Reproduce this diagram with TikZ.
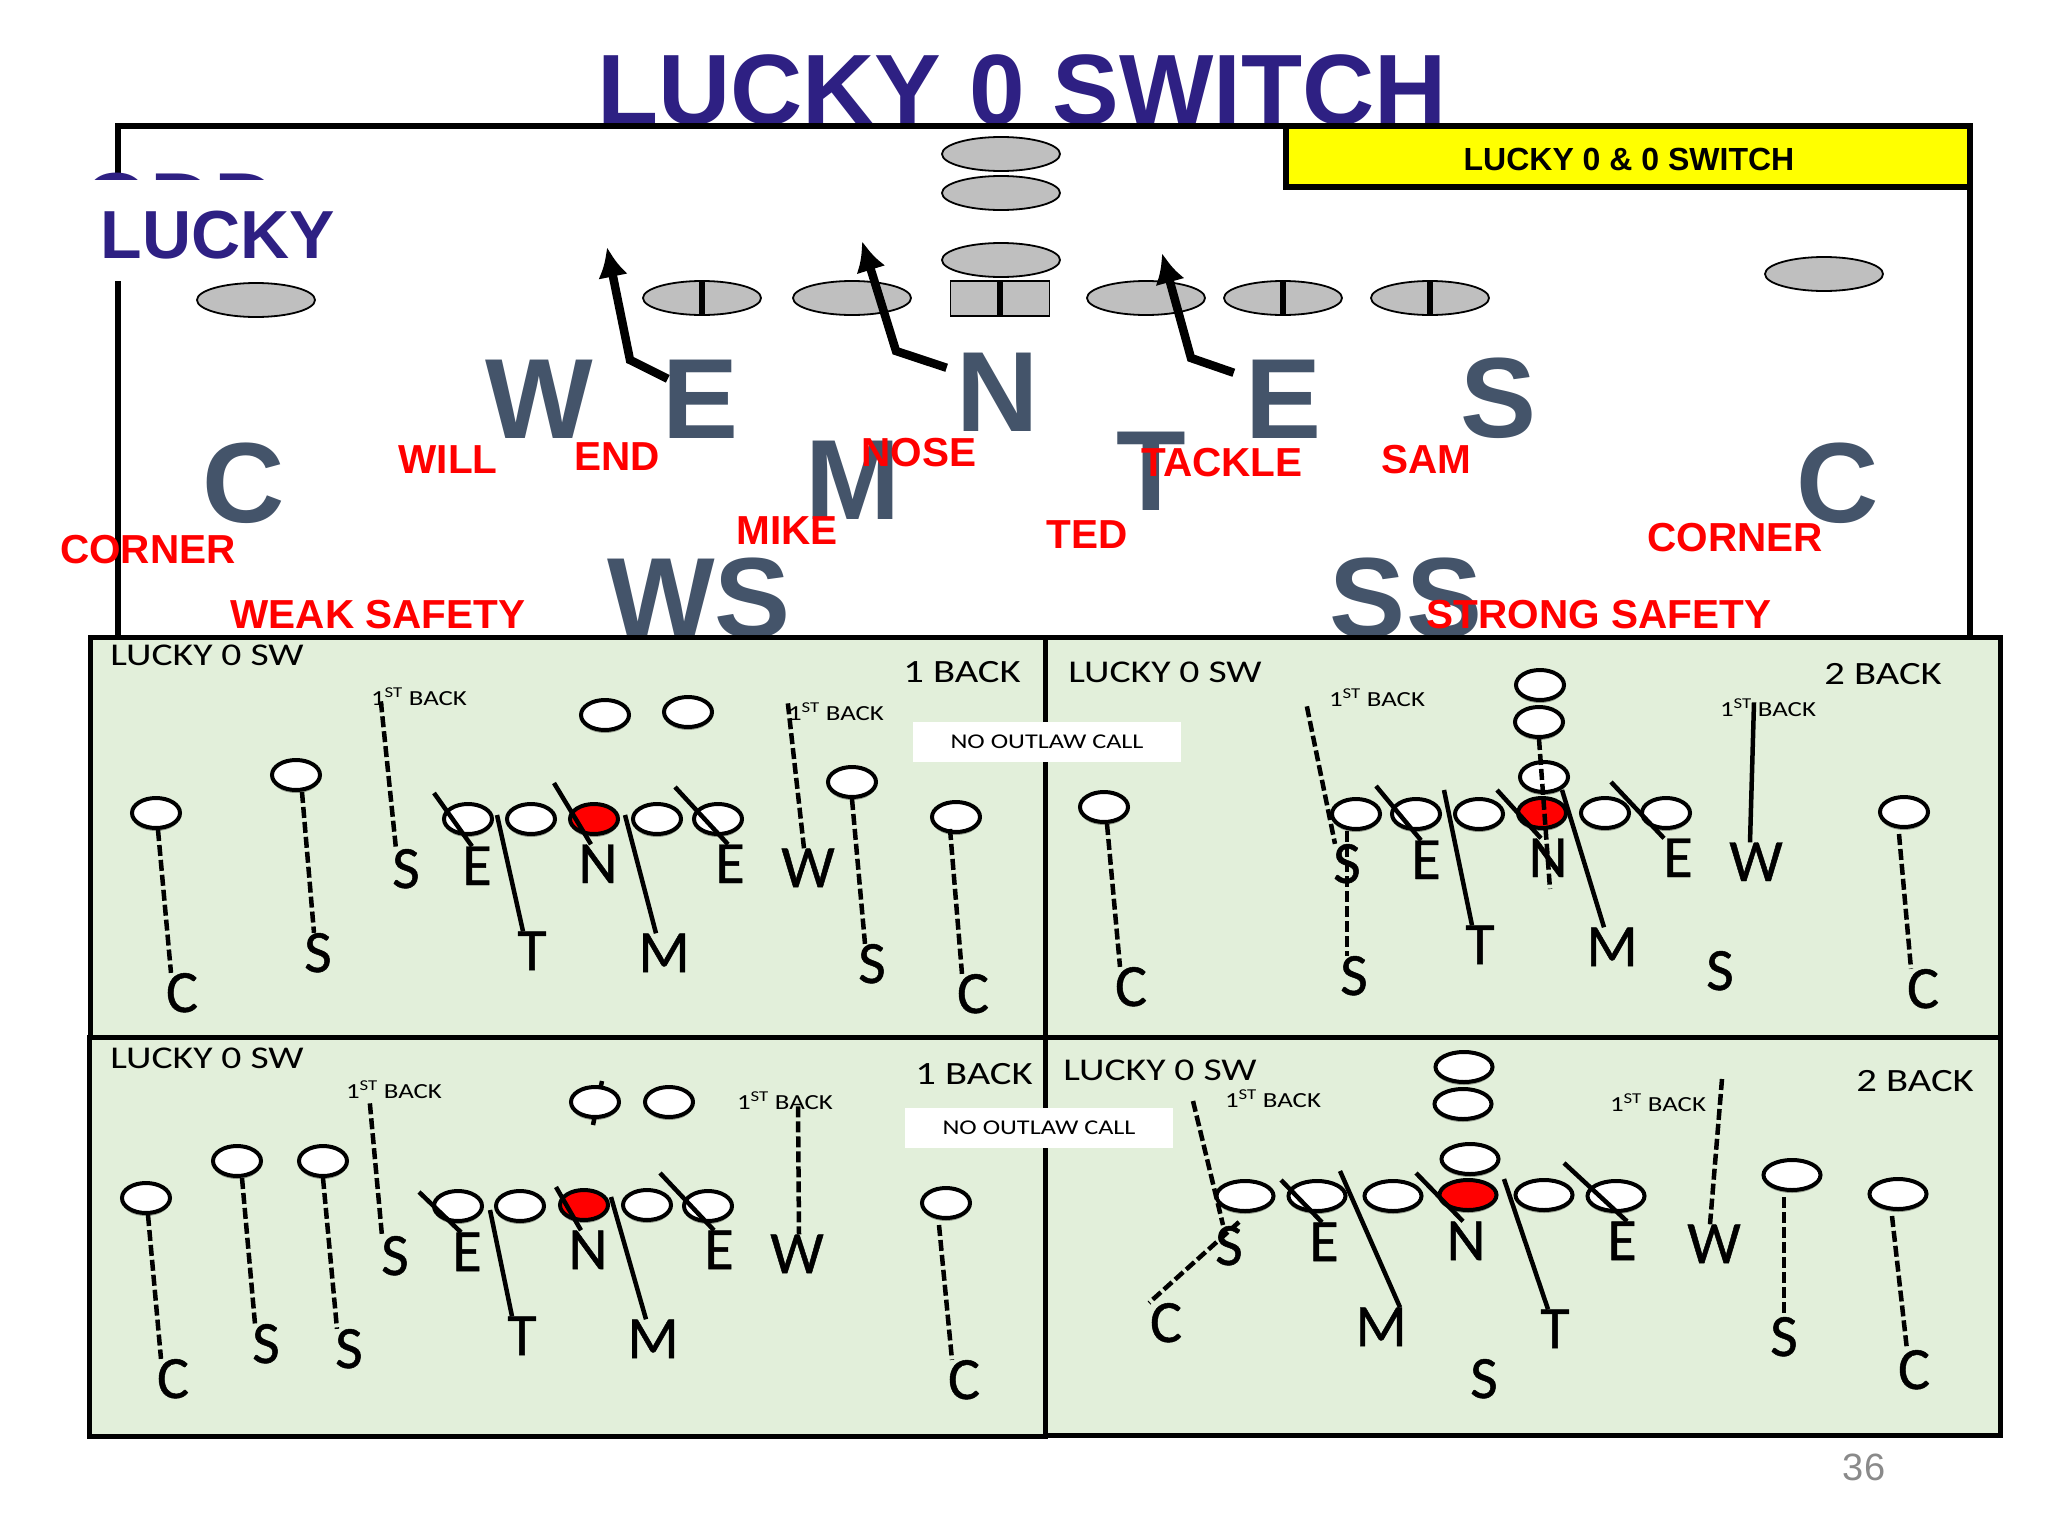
\documentclass[tikz,border=0pt]{standalone}
\usepackage{fontspec}
\setmainfont{Liberation Sans}
\newfontfamily\markfont[FakeBold=0.8]{Carlito}
\newfontfamily\widefont[FakeStretch=1.25]{Carlito}
\usetikzlibrary{positioning,arrows.meta,shapes.geometric,shadows}
\definecolor{titleblue}{HTML}{2E2083}
\definecolor{slate}{HTML}{44546A}
\definecolor{panelgreen}{HTML}{E2EFDA}
\definecolor{fieldgray}{HTML}{BFBFBF}
\definecolor{tagyellow}{RGB}{255,255,0}
\definecolor{callred}{RGB}{255,0,0}
\tikzset{
	headline/.style={anchor=base,inner sep=0pt,font=\bfseries\fontsize{#1}{#1}\selectfont},
	bigmark/.style={anchor=base,inner sep=0pt,text=slate,font=\bfseries\fontsize{114}{114}\selectfont},
	redname/.style={anchor=base,inner sep=0pt,text=callred,font=\bfseries\fontsize{40.5}{40.5}\selectfont},
	gray oval/.style={ellipse,draw,line width=1.8pt,fill=fieldgray,minimum width=118pt,minimum height=34pt,inner sep=0pt},
	bar/.style={line width=6pt},
	blitz/.style={line width=8.5pt,-{Latex[length=30pt,width=30pt]}},
	back/.style={ellipse,draw,line width=4pt,fill=white,minimum width=48pt,minimum height=30pt,inner sep=0pt,
		drop shadow={shadow xshift=0pt,shadow yshift=-3pt,opacity=.35,fill=black}},
	letter/.style={anchor=base,inner sep=0pt,font=\markfont\fontsize{60}{60}\selectfont},
	paneltitle/.style={anchor=base,inner sep=0pt,font=\widefont\fontsize{31.7}{31.7}\selectfont},
	backcount/.style={anchor=base,inner sep=0pt,font=\widefont\fontsize{32.5}{32.5}\selectfont},
	firstback/.style={anchor=base,inner sep=0pt,font=\widefont\fontsize{21.5}{21.5}\selectfont},
	outlaw/.style={fill=white,minimum width=268pt,minimum height=40pt,inner sep=0pt,font=\widefont\fontsize{21}{21}\selectfont},
	rush/.style={line width=4.5pt,dash pattern=on 11pt off 4pt},
	slash/.style={line width=4.5pt},
	panel/.style={draw,line width=5pt,fill=panelgreen},
}
\begin{document}
\begin{tikzpicture}[x=1pt,y=-1pt,>=latex]
	\useasboundingbox (0,0) rectangle (2048,1536);
	\fill[white] (0,0) rectangle (2048,1536);

	\node[headline=100,text=titleblue] (title) at (1022,125) {LUCKY 0 SWITCH};
	\draw[line width=6pt,fill=white] (118,126) rectangle (1970,640);
	\node[headline=88,text=titleblue] (odd) at (180,234) {ODD};
	\fill[white] (85,180) rectangle (345,281);
	\node[headline=68,text=titleblue] (lucky) at (218,258) {LUCKY};
	\node[draw,line width=6.5pt,fill=tagyellow,minimum width=684pt,minimum height=61pt,inner sep=0pt] (tag) at (1628,156.5) {};
	\node[headline=32] (tagtext) at (1629,170) {LUCKY 0 \& 0 SWITCH};

	% offense
	\foreach \n/\x/\y in {ol1/702/298,ol2/852/298,ol3/1146/298,ol4/1283/298,ol5/1430/298,
		wr1/256/300,wr2/1824/274,qb1/1001/154,qb2/1001/193,qb3/1001/260}
		\node[gray oval] (\n) at (\x,\y) {};
	\node[draw,line width=1.8pt,fill=fieldgray,minimum width=99pt,minimum height=35pt,inner sep=0pt] (center) at (1000,298.5) {};
	\draw[bar] (ol1.north) -- (ol1.south);
	\draw[bar] (ol4.north) -- (ol4.south);
	\draw[bar] (ol5.north) -- (ol5.south);
	\draw[bar] (center.north) -- (center.south);

	% defense
	\foreach \n/\t/\x/\y in {bigW/W/539/438,bigE/E/701/438,bigC/C/244/522,bigN/N/998/431,bigM/M/853/519,
		bigT/T/1151/510,bigEE/E/1284/438,bigS/S/1499/437,bigCC/C/1838/522,bigWS/WS/699/637,bigSS/SS/1406/637}
		\node[bigmark] (\n) at (\x,\y) {\t};

	\coordinate (kink1) at (630,360);
	\coordinate (kink2) at (896,351);
	\coordinate (kink3) at (1191,358);
	\coordinate (tip1) at (607,247);
	\coordinate (tip2) at (862,241);
	\coordinate (tip3) at (1162,253);
	\draw[blitz] ([xshift=5pt,yshift=20pt]bigE.west) -- (kink1) -- (tip1);
	\draw[blitz] ([xshift=-10pt,yshift=24pt]bigN.west) -- (kink2) -- (tip2);
	\draw[blitz] ([xshift=-12pt,yshift=26pt]bigEE.west) -- (kink3) -- (tip3);

	\foreach \n/\t/\x/\y in {will/WILL/448/473,end/END/617/470,nose/NOSE/919/466,mike/MIKE/787/544,
		corner/CORNER/148/563,weak/WEAK SAFETY/378/628,tackle/TACKLE/1222/476,sam/SAM/1426/473,
		ted/TED/1087/548,cornerr/CORNER/1735/551,strong/STRONG SAFETY/1599/628}
		\node[redname] (\n) at (\x,\y) {\t};

	% panels
	\draw[panel] (90,637) rectangle (1045,1037);
	\draw[panel] (1045,637) rectangle (2000,1037);
	\draw[panel] (89,1037) rectangle (1045,1436);
	\draw[panel] (1045,1037) rectangle (2000,1435);
	\node[outlaw] (calla) at (1047,742) {NO OUTLAW CALL};
	\node[outlaw] (callc) at (1039,1128) {NO OUTLAW CALL};

	% panel top left
	\node[paneltitle] (atitle) at (207,665) {LUCKY 0 SW};
	\node[backcount] (aback) at (962,682) {1 BACK};
	\node[firstback] (ab1) at (419,705) {1\textsuperscript{ST} BACK};
	\node[firstback] (ab2) at (836,720) {1\textsuperscript{ST} BACK};
	\foreach \n/\x/\y in {ac1/156/813,ac2/296/775,ac3/605/715,ac4/688/712,ac5/852/782,ac6/956/817,
		ac7/468/819,ac8/531/819,ac10/657/819,ac11/718/819}
		\node[back] (\n) at (\x,\y) {};
	\node[back,fill=callred] (ac9) at (594,819) {};
	\foreach \n/\t/\x/\y in {aS/S/406/888,aE/E/477/885,aN/N/598/883,aEE/E/730/883,aW/W/808/887,aT/T/532/970,
		aM/M/664/972,aSS/S/318/972,aC/C/182/1012,aSSS/S/872/983,aCC/C/973/1013}
		\node[letter] (\n) at (\x,\y) {\t};
	\foreach \n/\x/\y in {atip1/434/793,atip2/497/815,atip3/554/783,atip4/625/815,atip5/675/787}
		\coordinate (\n) at (\x,\y);
	\draw[rush] ([xshift=10pt,yshift=4pt]ab1.south west) -- ([xshift=-10pt]aS.north);
	\draw[rush] ([yshift=17pt]ab2.south west) -- ([xshift=-4pt]aW.north);
	\draw[rush] ([xshift=6pt]ac2.south) -- ([xshift=-4pt]aSS.north);
	\draw[rush] ([xshift=2pt]ac1.south) -- ([xshift=-11pt]aC.north);
	\draw[rush] (ac5.south) -- ([xshift=-7pt]aSSS.north);
	\draw[rush] ([xshift=-6pt,yshift=5pt]ac6.south) -- ([xshift=-11pt]aCC.north);
	\draw[slash] ([xshift=-5pt]aE.north) -- (atip1);
	\draw[slash] ([xshift=-9pt]aT.north) -- (atip2);
	\draw[slash] ([xshift=-7pt]aN.north) -- (atip3);
	\draw[slash] ([xshift=-8pt]aM.north) -- (atip4);
	\draw[slash] ([xshift=-2pt]aEE.north) -- (atip5);

	% panel top right
	\node[paneltitle] (btitle) at (1165,682) {LUCKY 0 SW};
	\node[backcount] (bback) at (1883,684) {2 BACK};
	\node[firstback] (bb1) at (1377,706) {1\textsuperscript{ST} BACK};
	\node[firstback] (bb2) at (1768,716) {1\textsuperscript{ST} BACK};
	\foreach \n/\x/\y in {bc1/1540/685,bc2/1539/722,bc3/1544/777,bc4/1104/807,bc5/1356/814,bc6/1416/814,
		bc7/1479/814,bc9/1605/813,bc10/1666/813,bc11/1904/812}
		\node[back] (\n) at (\x,\y) {};
	\node[back,fill=callred] (bc8) at (1542,813) {};
	\foreach \n/\t/\x/\y in {bS/S/1347/883,bE/E/1426/879,bN/N/1548/877,bEE/E/1678/877,bW/W/1756/881,bT/T/1480/964,
		bM/M/1612/966,bSS/S/1354/995,bSSS/S/1720/990,bC/C/1131/1006,bCC/C/1923/1008}
		\node[letter] (\n) at (\x,\y) {\t};
	\foreach \n/\x/\y in {btip1/1376/786,btip2/1444/790,btip3/1497/790,btip4/1562/790,btip5/1611/782,btip6/1550/889}
		\coordinate (\n) at (\x,\y);
	\draw[rush] ([xshift=-22pt]bb1.south west) -- ([xshift=-12pt]bS.north);
	\draw[rush] ([xshift=-9pt]bc5.south) -- ([xshift=-7pt]bSS.north);
	\draw[rush] (bc2.south) -- (btip6);
	\draw[rush] ([xshift=3pt]bc4.south) -- ([xshift=-11pt]bC.north);
	\draw[rush] ([xshift=-5pt,yshift=-5pt]bc11.south) -- ([xshift=-12pt]bCC.north);
	\draw[slash] ([xshift=-14pt,yshift=14pt]bb2.south) -- ([xshift=-6pt]bW.north);
	\draw[slash] ([xshift=-5pt]bE.north) -- (btip1);
	\draw[slash] ([xshift=-8pt]bT.north) -- (btip2);
	\draw[slash] ([xshift=-7pt]bN.north) -- (btip3);
	\draw[slash] ([xshift=-8pt]bM.north) -- (btip4);
	\draw[slash] ([xshift=-14pt]bEE.north) -- (btip5);

	% panel bottom left
	\node[paneltitle] (ctitle) at (207,1068) {LUCKY 0 SW};
	\node[backcount] (cback) at (974,1084) {1 BACK};
	\node[firstback] (cb1) at (394,1098) {1\textsuperscript{ST} BACK};
	\node[firstback] (cb2) at (785,1109) {1\textsuperscript{ST} BACK};
	\coordinate (ctick1) at (602,1081);
	\coordinate (ctick2) at (593,1125);
	\draw[slash] (ctick1) -- (ctick2);
	\foreach \n/\x/\y in {cc1/146/1198,cc2/237/1161,cc3/323/1161,cc4/595/1102,cc5/669/1102,
		cc6/458/1206,cc7/520/1206,cc9/647/1205,cc10/708/1206,cc11/946/1203}
		\node[back] (\n) at (\x,\y) {};
	\node[back,fill=callred] (cc8) at (584,1205) {};
	\foreach \n/\t/\x/\y in {cS/S/395/1275,cE/E/467/1271,cN/N/588/1269,cEE/E/719/1269,cW/W/797/1273,cT/T/522/1355,
		cM/M/653/1358,cSS/S/266/1363,cSSS/S/349/1368,cC/C/173/1398,cCC/C/964/1399}
		\node[letter] (\n) at (\x,\y) {\t};
	\foreach \n/\x/\y in {ctip1/419/1192,ctip2/490/1210,ctip3/556/1187,ctip4/611/1197,ctip5/660/1173}
		\coordinate (\n) at (\x,\y);
	\draw[rush] ([xshift=24pt,yshift=-5pt]cb1.south west) -- ([xshift=-13pt]cS.north);
	\draw[rush] ([xshift=13pt,yshift=3pt]cb2.south) -- ([xshift=2pt]cW.north);
	\draw[rush] ([xshift=5pt]cc2.south) -- ([xshift=-11pt]cSS.north);
	\draw[rush] (cc3.south) -- ([xshift=-12pt]cSSS.north);
	\draw[rush] ([xshift=2pt]cc1.south) -- ([xshift=-12pt]cC.north);
	\draw[rush] ([xshift=-7pt,yshift=-5pt]cc11.south) -- ([xshift=-12pt]cCC.north);
	\draw[slash] ([xshift=-6pt]cE.north) -- (ctip1);
	\draw[slash] ([xshift=-10pt]cT.north) -- (ctip2);
	\draw[slash] ([xshift=-7pt]cN.north) -- (ctip3);
	\draw[slash] ([xshift=-7pt]cM.north) -- (ctip4);
	\draw[slash] ([xshift=-5pt]cEE.north) -- (ctip5);

	% panel bottom right
	\node[paneltitle] (dtitle) at (1160,1080) {LUCKY 0 SW};
	\node[backcount] (dback) at (1915,1091) {2 BACK};
	\node[firstback] (db1) at (1273,1107) {1\textsuperscript{ST} BACK};
	\node[firstback] (db2) at (1658,1111) {1\textsuperscript{ST} BACK};
	\foreach \n/\x/\y in {dc1/1464/1067,dc2/1463/1104,dc3/1470/1159,dc4/1245/1196,dc5/1317/1196,dc6/1393/1196,
		dc8/1544/1195,dc9/1616/1196,dc10/1792/1175,dc11/1898/1194}
		\node[back,minimum width=57pt] (\n) at (\x,\y) {};
	\node[back,minimum width=57pt,fill=callred] (dc7) at (1468,1195) {};
	\foreach \n/\t/\x/\y in {dS/S/1229/1265,dE/E/1324/1261,dN/N/1466/1260,dEE/E/1622/1260,dW/W/1714/1263,dC/C/1166/1342,
		dM/M/1381/1346,dT/T/1555/1348,dSS/S/1784/1356,dSSS/S/1484/1398,dCC/C/1914/1389}
		\node[letter] (\n) at (\x,\y) {\t};
	\foreach \n/\x/\y in {dtip1/1193/1101,dtip2/1281/1180,dtip3/1340/1171,dtip4/1416/1173,dtip5/1504/1179,dtip6/1564/1163,dtip7/1722/1079}
		\coordinate (\n) at (\x,\y);
	\draw[rush] (dtip1) -- ([xshift=-22pt,yshift=-12pt]dc4.south);
	\draw[rush] ([xshift=-6pt,yshift=-9pt]dc4.south) -- ([xshift=-17pt]dC.north);
	\draw[rush] (dtip7) -- ([xshift=-4pt]dW.north);
	\draw[rush] ([xshift=-8pt,yshift=-5pt]dc10.south) -- (dSS.north);
	\draw[rush] ([xshift=-6pt,yshift=-5pt]dc11.south) -- ([xshift=-7pt]dCC.north);
	\draw[slash] ([xshift=-2pt]dE.north) -- (dtip2);
	\draw[slash] ([xshift=19pt]dM.north) -- (dtip3);
	\draw[slash] ([xshift=-3pt]dN.north) -- (dtip4);
	\draw[slash] ([xshift=-7pt]dT.north) -- (dtip5);
	\draw[slash] ([xshift=5pt]dEE.north) -- (dtip6);

	\node[anchor=base,inner sep=0pt,text=black!46,font=\fontsize{38}{38}\selectfont] (page) at (1864,1480) {36};
\end{tikzpicture}
\end{document}
